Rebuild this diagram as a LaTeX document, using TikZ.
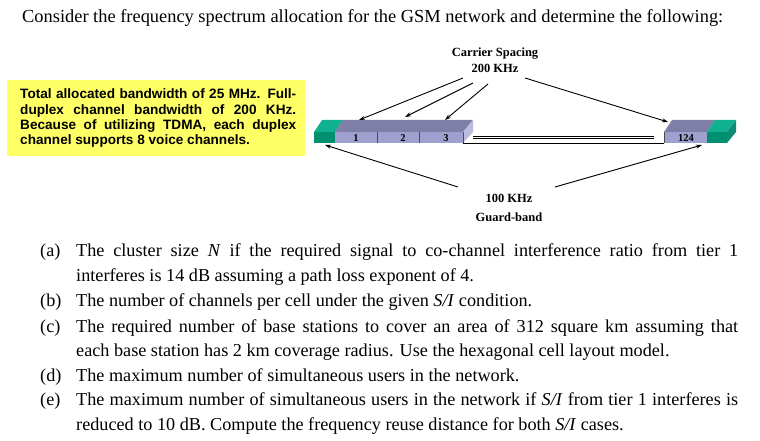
\documentclass[tikz,border=0pt]{standalone}
\usepackage{fontspec}
\setmainfont{Liberation Serif}
\newfontfamily\boxfont{Liberation Sans}
\usetikzlibrary{arrows.meta}
\definecolor{gbar}{HTML}{009070}
\definecolor{gtop}{HTML}{10B090}
\definecolor{pfront}{HTML}{A0A0D0}
\definecolor{ptop}{HTML}{7E7EA6}
\definecolor{yel}{HTML}{FFFF66}
\newcommand{\jl}[1]{\makebox[662pt][s]{#1}}
\newcommand{\yl}[1]{\makebox[276pt][s]{#1}}
\begin{document}
\begin{tikzpicture}[x=1pt,y=-1pt,
  txt/.style={inner sep=0pt,anchor=base west,font=\fontsize{18.2}{20}\selectfont},
  lab/.style={inner sep=0pt,font=\fontsize{10.5}{12}\selectfont\bfseries},
  arr/.style={-{Stealth[length=6pt,width=4pt]},line width=0.9pt},
  ybox/.style={inner sep=0pt,anchor=base west,font=\fontsize{13.6}{15}\selectfont\boxfont\bfseries}]
\useasboundingbox (0,0) rectangle (760,441);
\fill[white] (0,0) rectangle (760,441);
\node[txt,anchor=base west,font=\fontsize{18.4}{20}\selectfont] (title) at (22,23) {Consider the frequency spectrum allocation for the GSM network and determine the following:};
% yellow box
\fill[yel] (7,80) rectangle (305,156);
\node[ybox] (y1) at (20,99) {\yl{Total allocated bandwidth of 25 MHz. Full-}};
\node[ybox] (y2) at (20,114) {\yl{duplex channel bandwidth of 200 KHz.}};
\node[ybox] (y3) at (20,129) {\yl{Because of utilizing TDMA, each duplex}};
\node[ybox] (y4) at (20,144) {channel supports 8 voice channels.};
% bar
\fill[gtop] (314,132) -- (322,120) -- (343,120) -- (335,132) -- cycle;
\fill[gbar] (314,132) rectangle (335,143);
\fill[ptop] (335,132) -- (343,120) -- (473,120) -- (463,132) -- cycle;
\fill[pfront!70!white] (463,132) -- (473,120) -- (473,132) -- (463,143) -- cycle;
\fill[pfront] (335,132) rectangle (463,143);
\draw[black!70,line width=0.6pt] (377,132) -- (377,143) (419,132) -- (419,143) (463,132) -- (463,143);
\draw[line width=0.8pt] (463,143) -- (664,143);
\draw[line width=0.6pt,double distance=1.2pt] (473,137.5) -- (654,137.5);
\fill[ptop] (664,132) -- (672,120) -- (715,120) -- (707,132) -- cycle;
\fill[pfront] (664,132) rectangle (707,143);
\draw[black!70,line width=0.6pt] (664,132) -- (664,143);
\fill[gtop] (707,132) -- (715,120) -- (736,120) -- (727,132) -- cycle;
\fill[gbar] (707,132) rectangle (727,143);
\fill[gtop!80!black] (727,132) -- (736,120) -- (736,132) -- (727,143) -- cycle;
\node[lab] (c1) at (356,138) {1};
\node[lab] (c2) at (403,138) {2};
\node[lab] (c3) at (446,138) {3};
\node[lab] (c124) at (686,138) {124};
% labels
\node[inner sep=0pt,font=\fontsize{12.5}{16}\selectfont\bfseries,align=center] (cs) at (495,60) {Carrier Spacing\\200 KHz};
\node[inner sep=0pt,font=\fontsize{12.5}{19}\selectfont\bfseries,align=center] (gb) at (509,208) {100 KHz\\Guard-band};
\coordinate (a1) at (359,120); \coordinate (a2) at (405,117);
\coordinate (a3) at (445,120); \coordinate (a4) at (668,122);
\coordinate (g1) at (325,145); \coordinate (g2) at (702,145);
\draw[arr] (463,78) -- (a1);
\draw[arr] (473,83) -- (a2);
\draw[arr] (488,84) -- (a3);
\draw[arr] (525,78) -- (a4);
\draw[arr] (458,187) -- (g1);
\draw[arr] (555,187) -- (g2);
% items
\node[txt] (la) at (40,256) {(a)}; \node[txt] at (76,256) {\jl{The cluster size \textit{N} if the required signal to co-channel interference ratio from tier 1}};
\node[txt] at (76,281) {interferes is 14 dB assuming a path loss exponent of 4.};
\node[txt] (lb) at (40,306) {(b)}; \node[txt] at (76,306) {The number of channels per cell under the given \textit{S/I} condition.};
\node[txt] (lc) at (40,332) {(c)}; \node[txt] at (76,332) {\jl{The required number of base stations to cover an area of 312 square km assuming that}};
\node[txt] at (76,356) {each base station has 2 km coverage radius. Use the hexagonal cell layout model.};
\node[txt] (ld) at (40,381) {(d)}; \node[txt] at (76,381) {The maximum number of simultaneous users in the network.};
\node[txt] (le) at (40,405) {(e)}; \node[txt] at (76,405) {\jl{The maximum number of simultaneous users in the network if \textit{S/I} from tier 1 interferes is}};
\node[txt] at (76,430) {reduced to 10 dB. Compute the frequency reuse distance for both \textit{S/I} cases.};
\end{tikzpicture}
\end{document}
